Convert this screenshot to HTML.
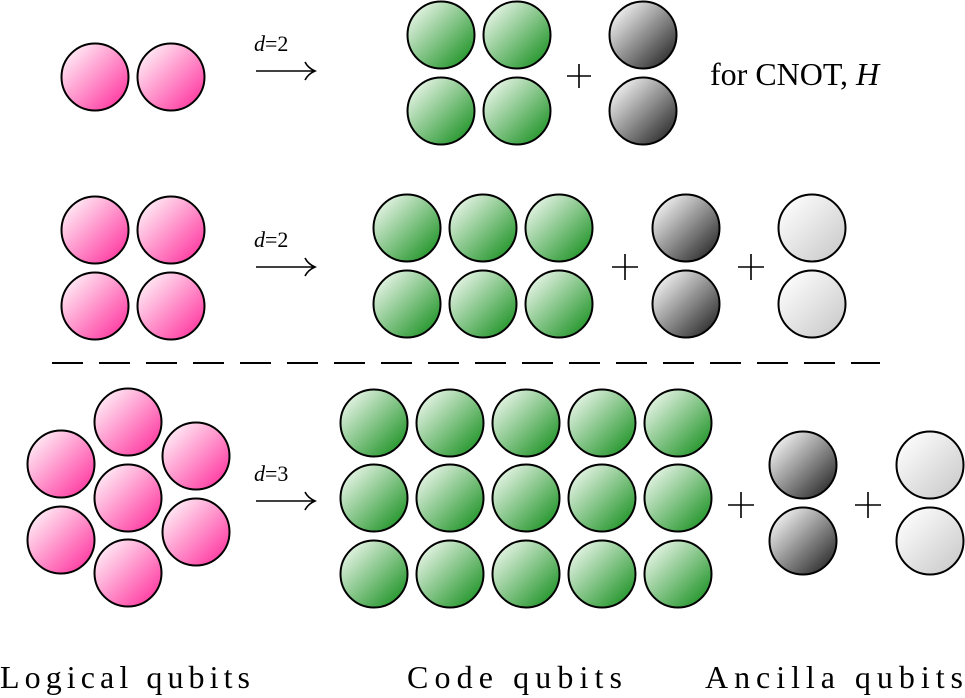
<!DOCTYPE html>
<html><head><style>html,body{margin:0;padding:0;background:#fff}svg{display:block}</style></head><body>
<svg width="965" height="698" viewBox="0 0 965 698" xmlns="http://www.w3.org/2000/svg">
<defs>
<linearGradient id="p" x1="0.15" y1="0.15" x2="0.85" y2="0.85"><stop offset="0" stop-color="#ffe3f1"/><stop offset="1" stop-color="#ff45a6"/></linearGradient>
<linearGradient id="g" x1="0.15" y1="0.15" x2="0.85" y2="0.85"><stop offset="0" stop-color="#dcefdc"/><stop offset="1" stop-color="#2e9b35"/></linearGradient>
<linearGradient id="k" x1="0.15" y1="0.15" x2="0.85" y2="0.85"><stop offset="0" stop-color="#e8e8e8"/><stop offset="1" stop-color="#3a3a3a"/></linearGradient>
<linearGradient id="l" x1="0.15" y1="0.15" x2="0.85" y2="0.85"><stop offset="0" stop-color="#fafafa"/><stop offset="1" stop-color="#cfcfcf"/></linearGradient>
</defs>
<g stroke="#000" stroke-width="2">
<!-- row 1 -->
<circle cx="95" cy="77" r="33.5" fill="url(#p)"/><circle cx="171" cy="77" r="33.5" fill="url(#p)"/>
<circle cx="441" cy="35" r="33.5" fill="url(#g)"/><circle cx="517" cy="35" r="33.5" fill="url(#g)"/>
<circle cx="441" cy="111" r="33.5" fill="url(#g)"/><circle cx="517" cy="111" r="33.5" fill="url(#g)"/>
<circle cx="643" cy="35" r="33.5" fill="url(#k)"/><circle cx="643" cy="111" r="33.5" fill="url(#k)"/>
<!-- row 2 -->
<circle cx="95" cy="230" r="33.5" fill="url(#p)"/><circle cx="171" cy="230" r="33.5" fill="url(#p)"/>
<circle cx="95" cy="306" r="33.5" fill="url(#p)"/><circle cx="171" cy="306" r="33.5" fill="url(#p)"/>
<circle cx="407" cy="228" r="33.5" fill="url(#g)"/><circle cx="483" cy="228" r="33.5" fill="url(#g)"/><circle cx="559" cy="228" r="33.5" fill="url(#g)"/>
<circle cx="407" cy="304" r="33.5" fill="url(#g)"/><circle cx="483" cy="304" r="33.5" fill="url(#g)"/><circle cx="559" cy="304" r="33.5" fill="url(#g)"/>
<circle cx="686" cy="228" r="33.5" fill="url(#k)"/><circle cx="686" cy="304" r="33.5" fill="url(#k)"/>
<circle cx="812" cy="228" r="33.5" fill="url(#l)"/><circle cx="812" cy="304" r="33.5" fill="url(#l)"/>
<!-- row 3 -->
<circle cx="128" cy="422" r="33.5" fill="url(#p)"/>
<circle cx="61" cy="464" r="33.5" fill="url(#p)"/><circle cx="196" cy="456" r="33.5" fill="url(#p)"/>
<circle cx="128" cy="498" r="33.5" fill="url(#p)"/>
<circle cx="61" cy="540" r="33.5" fill="url(#p)"/><circle cx="196" cy="532" r="33.5" fill="url(#p)"/>
<circle cx="128" cy="573" r="33.5" fill="url(#p)"/>
<g fill="url(#g)">
<circle cx="374" cy="423" r="33.5"/><circle cx="450" cy="423" r="33.5"/><circle cx="526" cy="423" r="33.5"/><circle cx="602" cy="423" r="33.5"/><circle cx="678" cy="423" r="33.5"/>
<circle cx="374" cy="498" r="33.5"/><circle cx="450" cy="498" r="33.5"/><circle cx="526" cy="498" r="33.5"/><circle cx="602" cy="498" r="33.5"/><circle cx="678" cy="498" r="33.5"/>
<circle cx="374" cy="574" r="33.5"/><circle cx="450" cy="574" r="33.5"/><circle cx="526" cy="574" r="33.5"/><circle cx="602" cy="574" r="33.5"/><circle cx="678" cy="574" r="33.5"/>
</g>
<circle cx="803" cy="465" r="33.5" fill="url(#k)"/><circle cx="803" cy="541" r="33.5" fill="url(#k)"/>
<circle cx="930" cy="465" r="33.5" fill="url(#l)"/><circle cx="930" cy="541" r="33.5" fill="url(#l)"/>
</g>
<!-- arrows -->
<g stroke="#000" stroke-width="1.6" fill="none">
<path d="M256 71H314M305 62Q308 68 315 71Q308 74 305 80"/>
<path d="M256 267H314M305 258Q308 264 315 267Q308 270 305 276"/>
<path d="M256 501H314M305 492Q308 498 315 501Q308 504 305 510"/>
<path d="M52 363H880" stroke-width="2" stroke-dasharray="31 16"/>
</g>
<g stroke="#000" stroke-width="1.6">
<path d="M567 76H591M579 64V88"/>
<path d="M612 267H638M625 254V280"/>
<path d="M738 267H764M751 254V280"/>
<path d="M728 505H754M741 492V518"/>
<path d="M855 505H881M868 492V518"/>
</g>
<g font-family="Liberation Serif, serif" fill="#000">
<text x="254" y="51" font-size="22"><tspan font-style="italic">d</tspan>=2</text>
<text x="254" y="247" font-size="22"><tspan font-style="italic">d</tspan>=2</text>
<text x="254" y="481" font-size="22"><tspan font-style="italic">d</tspan>=3</text>
<text x="710" y="85" font-size="32">for CNOT, <tspan font-style="italic">H</tspan></text>
<text x="0" y="688" font-size="32" textLength="250">Logical qubits</text>
<text x="407" y="688" font-size="32" textLength="215">Code qubits</text>
<text x="705" y="688" font-size="32" textLength="258">Ancilla qubits</text>
</g>
</svg>
</body></html>
